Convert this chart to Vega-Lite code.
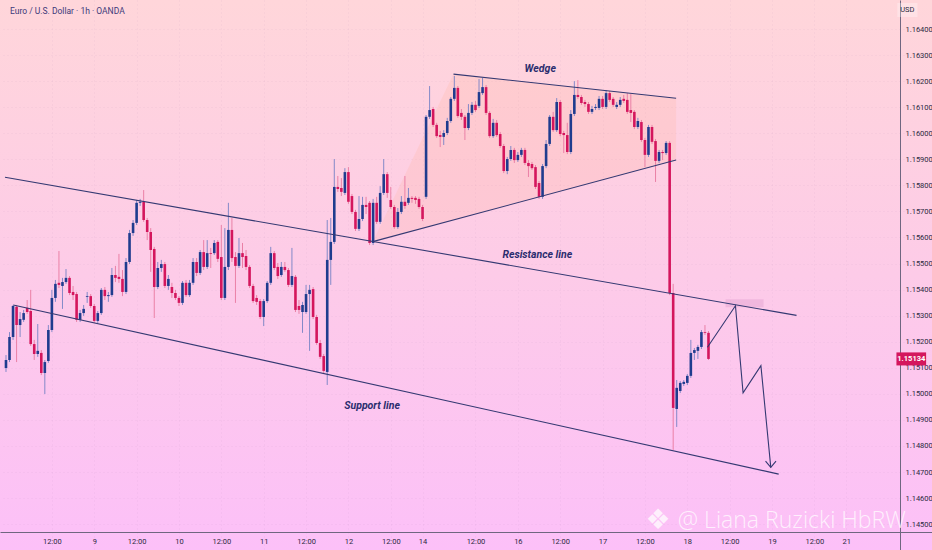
{
  "$schema": "https://vega.github.io/schema/vega-lite/v6.json",
  "width": 932,
  "height": 550,
  "autosize": "none",
  "padding": 0,
  "background": "#fdcbe8",
  "config": {
    "view": {
      "stroke": null,
      "fill": {
        "gradient": "linear", "x1": 0, "y1": 0, "x2": 0, "y2": 1,
        "stops": [
          {"offset": 0, "color": "#ffd6da"},
          {"offset": 0.5, "color": "#fdcbe8"},
          {"offset": 1, "color": "#fcc0f8"}
        ]
      }
    }
  },
  "datasets": {
    "candles": [
      {"t":-13,"o":1.15099,"h":1.15149,"l":1.15084,"c":1.15130},
      {"t":-12,"o":1.15130,"h":1.15237,"l":1.15122,"c":1.15218},
      {"t":-11,"o":1.15218,"h":1.15341,"l":1.15207,"c":1.15337},
      {"t":-10,"o":1.15334,"h":1.15341,"l":1.15122,"c":1.15264},
      {"t":-9,"o":1.15264,"h":1.15314,"l":1.15218,"c":1.15287},
      {"t":-8,"o":1.15284,"h":1.15322,"l":1.15276,"c":1.15310},
      {"t":-7,"o":1.15330,"h":1.15360,"l":1.15307,"c":1.15314},
      {"t":-6,"o":1.15318,"h":1.15399,"l":1.15184,"c":1.15191},
      {"t":-5,"o":1.15191,"h":1.15207,"l":1.15130,"c":1.15153},
      {"t":-4,"o":1.15153,"h":1.15268,"l":1.15142,"c":1.15165},
      {"t":-3,"o":1.15157,"h":1.15168,"l":1.15072,"c":1.15080},
      {"t":-2,"o":1.15080,"h":1.15130,"l":1.14999,"c":1.15122},
      {"t":-1,"o":1.15126,"h":1.15264,"l":1.15119,"c":1.15245},
      {"t":0,"o":1.15245,"h":1.15399,"l":1.15237,"c":1.15368},
      {"t":1,"o":1.15368,"h":1.15437,"l":1.15353,"c":1.15422},
      {"t":2,"o":1.15426,"h":1.15548,"l":1.15406,"c":1.15418},
      {"t":3,"o":1.15414,"h":1.15445,"l":1.15326,"c":1.15429},
      {"t":4,"o":1.15429,"h":1.15479,"l":1.15422,"c":1.15445},
      {"t":5,"o":1.15445,"h":1.15452,"l":1.15379,"c":1.15387},
      {"t":6,"o":1.15391,"h":1.15414,"l":1.15360,"c":1.15379},
      {"t":7,"o":1.15383,"h":1.15391,"l":1.15276,"c":1.15284},
      {"t":8,"o":1.15284,"h":1.15322,"l":1.15276,"c":1.15310},
      {"t":9,"o":1.15310,"h":1.15341,"l":1.15299,"c":1.15326},
      {"t":10,"o":1.15372,"h":1.15391,"l":1.15349,"c":1.15375},
      {"t":11,"o":1.15375,"h":1.15383,"l":1.15330,"c":1.15337},
      {"t":12,"o":1.15337,"h":1.15345,"l":1.15272,"c":1.15280},
      {"t":13,"o":1.15280,"h":1.15318,"l":1.15272,"c":1.15310},
      {"t":14,"o":1.15310,"h":1.15406,"l":1.15303,"c":1.15399},
      {"t":15,"o":1.15399,"h":1.15410,"l":1.15360,"c":1.15375},
      {"t":16,"o":1.15375,"h":1.15391,"l":1.15353,"c":1.15379},
      {"t":17,"o":1.15379,"h":1.15483,"l":1.15372,"c":1.15456},
      {"t":18,"o":1.15456,"h":1.15491,"l":1.15429,"c":1.15445},
      {"t":19,"o":1.15449,"h":1.15537,"l":1.15426,"c":1.15441},
      {"t":20,"o":1.15441,"h":1.15475,"l":1.15375,"c":1.15391},
      {"t":21,"o":1.15391,"h":1.15521,"l":1.15383,"c":1.15506},
      {"t":22,"o":1.15506,"h":1.15629,"l":1.15498,"c":1.15617},
      {"t":23,"o":1.15617,"h":1.15667,"l":1.15606,"c":1.15656},
      {"t":24,"o":1.15656,"h":1.15744,"l":1.15648,"c":1.15733},
      {"t":25,"o":1.15733,"h":1.15748,"l":1.15721,"c":1.15737},
      {"t":26,"o":1.15737,"h":1.15782,"l":1.15660,"c":1.15667},
      {"t":27,"o":1.15667,"h":1.15675,"l":1.15590,"c":1.15621},
      {"t":28,"o":1.15621,"h":1.15636,"l":1.15468,"c":1.15552},
      {"t":29,"o":1.15556,"h":1.15564,"l":1.15291,"c":1.15410},
      {"t":30,"o":1.15410,"h":1.15506,"l":1.15402,"c":1.15483},
      {"t":31,"o":1.15483,"h":1.15514,"l":1.15468,"c":1.15498},
      {"t":32,"o":1.15498,"h":1.15506,"l":1.15406,"c":1.15414},
      {"t":33,"o":1.15414,"h":1.15456,"l":1.15399,"c":1.15441},
      {"t":34,"o":1.15410,"h":1.15426,"l":1.15368,"c":1.15387},
      {"t":35,"o":1.15387,"h":1.15399,"l":1.15360,"c":1.15368},
      {"t":36,"o":1.15368,"h":1.15375,"l":1.15337,"c":1.15349},
      {"t":37,"o":1.15349,"h":1.15433,"l":1.15341,"c":1.15426},
      {"t":38,"o":1.15426,"h":1.15437,"l":1.15372,"c":1.15379},
      {"t":39,"o":1.15379,"h":1.15437,"l":1.15372,"c":1.15426},
      {"t":40,"o":1.15426,"h":1.15521,"l":1.15418,"c":1.15506},
      {"t":41,"o":1.15506,"h":1.15521,"l":1.15452,"c":1.15464},
      {"t":42,"o":1.15464,"h":1.15552,"l":1.15456,"c":1.15544},
      {"t":43,"o":1.15544,"h":1.15590,"l":1.15475,"c":1.15487},
      {"t":44,"o":1.15487,"h":1.15590,"l":1.15479,"c":1.15540},
      {"t":45,"o":1.15540,"h":1.15560,"l":1.15483,"c":1.15537},
      {"t":46,"o":1.15540,"h":1.15590,"l":1.15533,"c":1.15579},
      {"t":47,"o":1.15583,"h":1.15590,"l":1.15506,"c":1.15518},
      {"t":48,"o":1.15525,"h":1.15648,"l":1.15360,"c":1.15368},
      {"t":49,"o":1.15368,"h":1.15636,"l":1.15360,"c":1.15487},
      {"t":50,"o":1.15487,"h":1.15733,"l":1.15475,"c":1.15629},
      {"t":51,"o":1.15629,"h":1.15675,"l":1.15506,"c":1.15521},
      {"t":52,"o":1.15525,"h":1.15544,"l":1.15349,"c":1.15491},
      {"t":53,"o":1.15491,"h":1.15598,"l":1.15483,"c":1.15540},
      {"t":54,"o":1.15540,"h":1.15579,"l":1.15483,"c":1.15525},
      {"t":55,"o":1.15529,"h":1.15552,"l":1.15475,"c":1.15487},
      {"t":56,"o":1.15487,"h":1.15494,"l":1.15406,"c":1.15414},
      {"t":57,"o":1.15414,"h":1.15422,"l":1.15349,"c":1.15356},
      {"t":58,"o":1.15368,"h":1.15379,"l":1.15341,"c":1.15353},
      {"t":59,"o":1.15356,"h":1.15364,"l":1.15287,"c":1.15295},
      {"t":60,"o":1.15295,"h":1.15364,"l":1.15260,"c":1.15356},
      {"t":61,"o":1.15356,"h":1.15433,"l":1.15349,"c":1.15426},
      {"t":62,"o":1.15426,"h":1.15564,"l":1.15418,"c":1.15540},
      {"t":63,"o":1.15540,"h":1.15548,"l":1.15475,"c":1.15483},
      {"t":64,"o":1.15487,"h":1.15502,"l":1.15441,"c":1.15452},
      {"t":65,"o":1.15456,"h":1.15506,"l":1.15449,"c":1.15487},
      {"t":66,"o":1.15487,"h":1.15506,"l":1.15468,"c":1.15475},
      {"t":67,"o":1.15475,"h":1.15483,"l":1.15410,"c":1.15418},
      {"t":68,"o":1.15418,"h":1.15560,"l":1.15410,"c":1.15452},
      {"t":69,"o":1.15449,"h":1.15456,"l":1.15314,"c":1.15322},
      {"t":70,"o":1.15337,"h":1.15360,"l":1.15307,"c":1.15322},
      {"t":71,"o":1.15314,"h":1.15353,"l":1.15234,"c":1.15341},
      {"t":72,"o":1.15314,"h":1.15418,"l":1.15307,"c":1.15383},
      {"t":73,"o":1.15383,"h":1.15418,"l":1.15165,"c":1.15399},
      {"t":74,"o":1.15402,"h":1.15410,"l":1.15287,"c":1.15295},
      {"t":75,"o":1.15295,"h":1.15303,"l":1.15188,"c":1.15195},
      {"t":76,"o":1.15195,"h":1.15207,"l":1.15134,"c":1.15142},
      {"t":77,"o":1.15145,"h":1.15153,"l":1.15080,"c":1.15088},
      {"t":78,"o":1.15084,"h":1.15667,"l":1.15034,"c":1.15514},
      {"t":79,"o":1.15514,"h":1.15675,"l":1.15418,"c":1.15583},
      {"t":80,"o":1.15583,"h":1.15901,"l":1.15575,"c":1.15794},
      {"t":81,"o":1.15794,"h":1.15836,"l":1.15775,"c":1.15786},
      {"t":82,"o":1.15790,"h":1.15828,"l":1.15759,"c":1.15775},
      {"t":83,"o":1.15771,"h":1.15866,"l":1.15763,"c":1.15851},
      {"t":84,"o":1.15851,"h":1.15870,"l":1.15729,"c":1.15737},
      {"t":85,"o":1.15759,"h":1.15767,"l":1.15690,"c":1.15698},
      {"t":86,"o":1.15698,"h":1.15706,"l":1.15625,"c":1.15633},
      {"t":87,"o":1.15633,"h":1.15759,"l":1.15625,"c":1.15671},
      {"t":88,"o":1.15671,"h":1.15756,"l":1.15663,"c":1.15725},
      {"t":89,"o":1.15725,"h":1.15756,"l":1.15690,"c":1.15717},
      {"t":90,"o":1.15733,"h":1.15740,"l":1.15571,"c":1.15579},
      {"t":91,"o":1.15579,"h":1.15748,"l":1.15571,"c":1.15733},
      {"t":92,"o":1.15733,"h":1.15756,"l":1.15652,"c":1.15660},
      {"t":93,"o":1.15660,"h":1.15797,"l":1.15652,"c":1.15771},
      {"t":94,"o":1.15771,"h":1.15901,"l":1.15763,"c":1.15843},
      {"t":95,"o":1.15843,"h":1.15851,"l":1.15752,"c":1.15771},
      {"t":96,"o":1.15744,"h":1.15794,"l":1.15710,"c":1.15717},
      {"t":97,"o":1.15717,"h":1.15725,"l":1.15633,"c":1.15640},
      {"t":98,"o":1.15640,"h":1.15713,"l":1.15633,"c":1.15698},
      {"t":99,"o":1.15698,"h":1.15759,"l":1.15690,"c":1.15737},
      {"t":100,"o":1.15737,"h":1.15836,"l":1.15710,"c":1.15721},
      {"t":101,"o":1.15733,"h":1.15790,"l":1.15725,"c":1.15752},
      {"t":102,"o":1.15752,"h":1.15759,"l":1.15733,"c":1.15748},
      {"t":103,"o":1.15752,"h":1.15759,"l":1.15729,"c":1.15744},
      {"t":104,"o":1.15748,"h":1.15756,"l":1.15710,"c":1.15717},
      {"t":105,"o":1.15717,"h":1.15725,"l":1.15663,"c":1.15671},
      {"t":106,"o":1.15756,"h":1.16070,"l":1.15748,"c":1.16063},
      {"t":107,"o":1.16063,"h":1.16181,"l":1.16055,"c":1.16089},
      {"t":108,"o":1.16093,"h":1.16101,"l":1.16024,"c":1.16032},
      {"t":109,"o":1.16032,"h":1.16040,"l":1.15982,"c":1.15989},
      {"t":110,"o":1.15993,"h":1.16009,"l":1.15947,"c":1.15986},
      {"t":111,"o":1.15986,"h":1.16012,"l":1.15955,"c":1.16001},
      {"t":112,"o":1.16001,"h":1.16059,"l":1.15993,"c":1.16047},
      {"t":113,"o":1.16047,"h":1.16139,"l":1.16040,"c":1.16132},
      {"t":114,"o":1.16132,"h":1.16220,"l":1.16124,"c":1.16174},
      {"t":115,"o":1.16174,"h":1.16181,"l":1.16059,"c":1.16066},
      {"t":116,"o":1.16078,"h":1.16093,"l":1.16051,"c":1.16063},
      {"t":117,"o":1.16063,"h":1.16070,"l":1.15974,"c":1.16020},
      {"t":118,"o":1.16020,"h":1.16112,"l":1.16012,"c":1.16078},
      {"t":119,"o":1.16078,"h":1.16120,"l":1.16070,"c":1.16109},
      {"t":120,"o":1.16109,"h":1.16124,"l":1.16082,"c":1.16089},
      {"t":121,"o":1.16105,"h":1.16208,"l":1.16097,"c":1.16158},
      {"t":122,"o":1.16154,"h":1.16212,"l":1.16147,"c":1.16177},
      {"t":123,"o":1.16177,"h":1.16185,"l":1.16070,"c":1.16078},
      {"t":124,"o":1.16078,"h":1.16085,"l":1.15982,"c":1.15989},
      {"t":125,"o":1.15989,"h":1.16055,"l":1.15982,"c":1.16040},
      {"t":126,"o":1.16040,"h":1.16051,"l":1.15986,"c":1.15993},
      {"t":127,"o":1.15997,"h":1.16005,"l":1.15944,"c":1.15951},
      {"t":128,"o":1.15951,"h":1.15959,"l":1.15847,"c":1.15855},
      {"t":129,"o":1.15855,"h":1.15909,"l":1.15843,"c":1.15901},
      {"t":130,"o":1.15901,"h":1.15951,"l":1.15894,"c":1.15936},
      {"t":131,"o":1.15936,"h":1.15944,"l":1.15886,"c":1.15897},
      {"t":132,"o":1.15897,"h":1.15928,"l":1.15890,"c":1.15917},
      {"t":133,"o":1.15917,"h":1.15944,"l":1.15909,"c":1.15936},
      {"t":134,"o":1.15936,"h":1.15944,"l":1.15878,"c":1.15886},
      {"t":135,"o":1.15886,"h":1.15897,"l":1.15832,"c":1.15874},
      {"t":136,"o":1.15882,"h":1.15890,"l":1.15859,"c":1.15866},
      {"t":137,"o":1.15870,"h":1.15878,"l":1.15786,"c":1.15794},
      {"t":138,"o":1.15809,"h":1.15817,"l":1.15748,"c":1.15756},
      {"t":139,"o":1.15756,"h":1.15882,"l":1.15748,"c":1.15874},
      {"t":140,"o":1.15874,"h":1.15974,"l":1.15866,"c":1.15959},
      {"t":141,"o":1.15959,"h":1.16070,"l":1.15951,"c":1.16063},
      {"t":142,"o":1.16063,"h":1.16082,"l":1.16005,"c":1.16012},
      {"t":143,"o":1.16012,"h":1.16135,"l":1.16005,"c":1.16120},
      {"t":144,"o":1.16120,"h":1.16128,"l":1.15989,"c":1.15997},
      {"t":145,"o":1.16001,"h":1.16009,"l":1.15924,"c":1.15993},
      {"t":146,"o":1.15993,"h":1.16040,"l":1.15920,"c":1.15928},
      {"t":147,"o":1.15928,"h":1.16089,"l":1.15920,"c":1.16074},
      {"t":148,"o":1.16074,"h":1.16200,"l":1.16066,"c":1.16147},
      {"t":149,"o":1.16147,"h":1.16204,"l":1.16132,"c":1.16139},
      {"t":150,"o":1.16139,"h":1.16147,"l":1.16109,"c":1.16116},
      {"t":151,"o":1.16120,"h":1.16128,"l":1.16101,"c":1.16112},
      {"t":152,"o":1.16112,"h":1.16120,"l":1.16074,"c":1.16082},
      {"t":153,"o":1.16082,"h":1.16105,"l":1.16074,"c":1.16093},
      {"t":154,"o":1.16097,"h":1.16112,"l":1.16089,"c":1.16101},
      {"t":155,"o":1.16097,"h":1.16143,"l":1.16089,"c":1.16132},
      {"t":156,"o":1.16132,"h":1.16143,"l":1.16093,"c":1.16101},
      {"t":157,"o":1.16101,"h":1.16166,"l":1.16093,"c":1.16154},
      {"t":158,"o":1.16154,"h":1.16162,"l":1.16120,"c":1.16128},
      {"t":159,"o":1.16132,"h":1.16139,"l":1.16101,"c":1.16109},
      {"t":160,"o":1.16101,"h":1.16120,"l":1.16093,"c":1.16109},
      {"t":161,"o":1.16109,"h":1.16139,"l":1.16101,"c":1.16128},
      {"t":162,"o":1.16132,"h":1.16147,"l":1.16116,"c":1.16124},
      {"t":163,"o":1.16128,"h":1.16154,"l":1.16074,"c":1.16082},
      {"t":164,"o":1.16089,"h":1.16150,"l":1.16043,"c":1.16078},
      {"t":165,"o":1.16082,"h":1.16089,"l":1.16016,"c":1.16024},
      {"t":166,"o":1.16024,"h":1.16059,"l":1.16016,"c":1.16047},
      {"t":167,"o":1.16043,"h":1.16051,"l":1.15967,"c":1.15974},
      {"t":168,"o":1.15974,"h":1.15982,"l":1.15870,"c":1.15917},
      {"t":169,"o":1.15917,"h":1.16032,"l":1.15909,"c":1.16024},
      {"t":170,"o":1.16024,"h":1.16032,"l":1.15959,"c":1.15967},
      {"t":171,"o":1.15970,"h":1.15978,"l":1.15813,"c":1.15894},
      {"t":172,"o":1.15894,"h":1.15936,"l":1.15886,"c":1.15928},
      {"t":173,"o":1.15928,"h":1.15936,"l":1.15897,"c":1.15924},
      {"t":174,"o":1.15924,"h":1.15970,"l":1.15917,"c":1.15963},
      {"t":175,"o":1.15963,"h":1.15970,"l":1.15379,"c":1.15387},
      {"t":176,"o":1.15387,"h":1.15422,"l":1.14785,"c":1.14946},
      {"t":177,"o":1.14942,"h":1.15053,"l":1.14873,"c":1.15023},
      {"t":178,"o":1.15011,"h":1.15049,"l":1.15003,"c":1.15042},
      {"t":179,"o":1.15038,"h":1.15053,"l":1.15030,"c":1.15046},
      {"t":180,"o":1.15042,"h":1.15076,"l":1.15034,"c":1.15069},
      {"t":181,"o":1.15069,"h":1.15207,"l":1.15061,"c":1.15157},
      {"t":182,"o":1.15157,"h":1.15176,"l":1.15130,"c":1.15168},
      {"t":183,"o":1.15165,"h":1.15188,"l":1.15134,"c":1.15180},
      {"t":184,"o":1.15180,"h":1.15245,"l":1.15172,"c":1.15237},
      {"t":185,"o":1.15237,"h":1.15264,"l":1.15226,"c":1.15234},
      {"t":186,"o":1.15234,"h":1.15241,"l":1.15130,"c":1.15134}
    ],
    "lines": [
      {"id":"res","i":0,"t":-13.28,"p":1.15831},
      {"id":"res","i":1,"t":210.94,"p":1.15301},
      {"id":"sup","i":0,"t":-10.95,"p":1.15341},
      {"id":"sup","i":1,"t":205.89,"p":1.14692},
      {"id":"wtop","i":0,"t":113.77,"p":1.16227},
      {"id":"wtop","i":1,"t":176.83,"p":1.16134},
      {"id":"wbot","i":0,"t":90.9,"p":1.15584},
      {"id":"wbot","i":1,"t":176.83,"p":1.15897},
      {"id":"proj","i":0,"t":185.71,"p":1.15179},
      {"id":"proj","i":1,"t":193.64,"p":1.15338},
      {"id":"proj","i":2,"t":195.8,"p":1.15004},
      {"id":"proj","i":3,"t":200.85,"p":1.15108},
      {"id":"proj","i":4,"t":203.65,"p":1.14718},
      {"id":"head","i":0,"t":202.16,"p":1.14742},
      {"id":"head","i":1,"t":203.65,"p":1.14718},
      {"id":"head","i":2,"t":205.13,"p":1.14742}
    ],
    "wedge": [
      {"t":90.9,"top":1.15584,"bot":1.15584},
      {"t":113.77,"top":1.16227,"bot":1.15667},
      {"t":176.83,"top":1.16134,"bot":1.15897}
    ],
    "notes": [
      {"t":138.35,"p":1.16246,"label":"Wedge"},
      {"t":137.5,"p":1.15533,"label":"Resistance line"},
      {"t":90.7,"p":1.14953,"label":"Support line"}
    ]
  },
  "encoding": {
    "x": {
      "field": "t", "type": "quantitative",
      "scale": {"domain": [-13.28, 247.9], "nice": false, "zero": false},
      "axis": {
        "orient": "bottom", "offset": -18, "title": null,
        "values": [0,12,24,36,48,60,72,84,96,105,120,132,144,156,168,180,192,204,216,225],
        "labelExpr": "indexof([0,24,48,72,96,120,144,168,192,216], datum.value) >= 0 ? '12:00' : ['9','10','11','12','14','16','17','18','19','21'][indexof([12,36,60,84,105,132,156,180,204,225], datum.value)]",
        "ticks": false, "labelPadding": 5, "labelFontSize": 7.5, "labelFont": "Roboto",
        "labelColor": "#2b2940", "labelOverlap": false, "labelFlush": false,
        "domainColor": "#6f6680", "domainWidth": 1,
        "grid": true, "gridColor": "#a070a8", "gridOpacity": 0.12, "gridDash": [1, 3]
      }
    },
    "y": {
      "type": "quantitative",
      "scale": {"domain": [1.144008, 1.165113], "nice": false, "zero": false},
      "axis": {
        "orient": "right", "offset": -32, "title": null,
        "values": [1.145,1.146,1.147,1.148,1.149,1.150,1.151,1.152,1.153,1.154,1.155,1.156,1.157,1.158,1.159,1.160,1.161,1.162,1.163,1.164],
        "format": ".5f", "ticks": false, "labelPadding": 5, "labelFontSize": 7.5, "labelFont": "Roboto",
        "labelColor": "#2b2940", "labelOverlap": false, "labelFlush": false,
        "domainColor": "#6f6680", "domainWidth": 1,
        "grid": true, "gridColor": "#a070a8", "gridOpacity": 0.12, "gridDash": [1, 3]
      }
    }
  },
  "layer": [
    {
      "data": {"name": "wedge"},
      "mark": {"type": "area", "color": "#ffa882", "opacity": 0.16},
      "encoding": {"y": {"field": "top"}, "y2": {"field": "bot"}}
    },
    {
      "data": {"values": [{"t1": 190.84, "t2": 201.6, "p1": 1.15363, "p2": 1.15332}]},
      "mark": {"type": "rect", "color": "#d48cc4", "opacity": 0.3},
      "encoding": {"x": {"field": "t1"}, "x2": {"field": "t2"}, "y": {"field": "p1"}, "y2": {"field": "p2"}}
    },
    {
      "data": {"values": [{"t1": 239.5, "t2": 245.2, "p1": 1.16500, "p2": 1.16446}]},
      "mark": {"type": "rect", "color": "#ffffff", "opacity": 0.3},
      "encoding": {"x": {"field": "t1"}, "x2": {"field": "t2"}, "y": {"field": "p1"}, "y2": {"field": "p2"}}
    },
    {
      "data": {"name": "candles"},
      "mark": {"type": "rule", "strokeWidth": 1},
      "encoding": {
        "y": {"field": "l"}, "y2": {"field": "h"},
        "color": {"condition": {"test": "datum.c >= datum.o", "value": "#8389c8"}, "value": "#ea80a6"}
      }
    },
    {
      "data": {"name": "candles"},
      "mark": {"type": "bar", "width": 2.6},
      "encoding": {
        "y": {"field": "o"}, "y2": {"field": "c"},
        "color": {"condition": {"test": "datum.c >= datum.o", "value": "#1f3c8e"}, "value": "#d4165d"}
      }
    },
    {
      "data": {"name": "lines"},
      "mark": {"type": "line", "color": "#343972", "strokeWidth": 1.1},
      "encoding": {"y": {"field": "p"}, "detail": {"field": "id"}, "order": {"field": "i"}}
    },
    {
      "data": {"name": "notes"},
      "mark": {"type": "text", "font": "Roboto", "fontSize": 10.5, "fontStyle": "italic", "fontWeight": "bold", "color": "#2b2d6e", "align": "center", "baseline": "middle"},
      "encoding": {"y": {"field": "p"}, "text": {"field": "label"}}
    },
    {
      "data": {"values": [{"t": 171.7, "p": 1.14512, "label": "❖"}]},
      "mark": {"type": "text", "font": "DejaVu Sans", "fontSize": 28, "color": "#ffffff", "opacity": 0.75, "align": "center", "baseline": "middle"},
      "encoding": {"y": {"field": "p"}, "text": {"field": "label"}}
    },
    {
      "data": {"values": [{"t": 177.3, "p": 1.14512, "label": "@ Liana Ruzicki HbRW"}]},
      "mark": {"type": "text", "font": "Open Sans", "fontWeight": 300, "fontSize": 23, "color": "#ffffff", "opacity": 0.75, "align": "left", "baseline": "middle"},
      "encoding": {"y": {"field": "p"}, "text": {"field": "label"}}
    },
    {
      "data": {"values": [{"t": -11.88, "p": 1.16469, "label": "Euro / U.S. Dollar · 1h · OANDA"}]},
      "mark": {"type": "text", "font": "Roboto", "fontSize": 8.5, "color": "#3d3a7a", "align": "left", "baseline": "middle"},
      "encoding": {"y": {"field": "p"}, "text": {"field": "label"}}
    },
    {
      "data": {"values": [{"t": 242.32, "p": 1.16473, "label": "USD"}]},
      "mark": {"type": "text", "font": "Roboto", "fontSize": 7.5, "color": "#2b2940", "align": "center", "baseline": "middle"},
      "encoding": {"y": {"field": "p"}, "text": {"field": "label"}}
    },
    {
      "data": {"values": [{"t1": 239.24, "t2": 247.65, "p1": 1.15159, "p2": 1.15109}]},
      "mark": {"type": "rect", "color": "#d4165d"},
      "encoding": {"x": {"field": "t1"}, "x2": {"field": "t2"}, "y": {"field": "p1"}, "y2": {"field": "p2"}}
    },
    {
      "data": {"values": [{"t": 243.45, "p": 1.15134, "label": "1.15134"}]},
      "mark": {"type": "text", "font": "Roboto", "fontSize": 7.5, "fontWeight": "bold", "color": "#ffffff", "align": "center", "baseline": "middle"},
      "encoding": {"y": {"field": "p"}, "text": {"field": "label"}}
    }
  ]
}
